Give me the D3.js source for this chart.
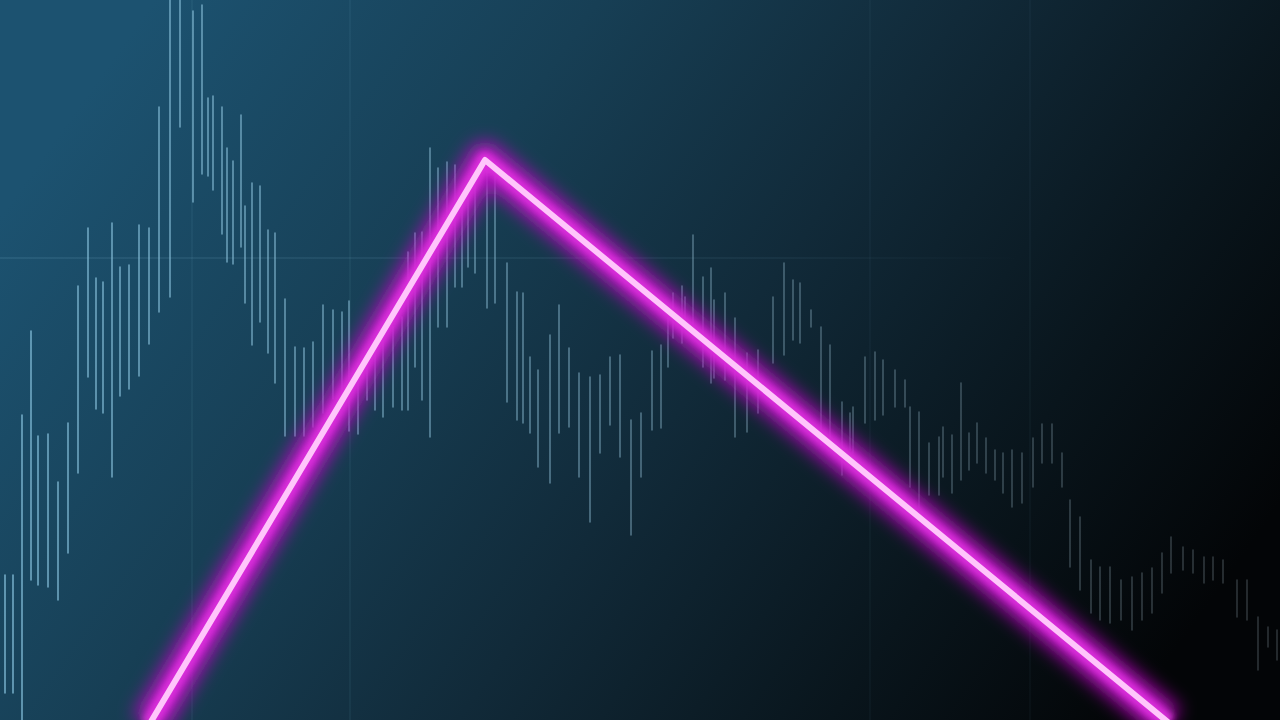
<!DOCTYPE html>
<html><head><meta charset="utf-8">
<script src="https://cdn.jsdelivr.net/npm/d3@7"></script>
<style>html,body{margin:0;padding:0;background:#000;overflow:hidden}</style>
</head><body><svg id="c" width="1280" height="720"></svg>
<script>
// Range bars (day index /10, value units)
const days  = [0.5,1.3,2.2,3.1,3.8,4.8,5.8,6.8,7.8,8.8,9.6,10.3,11.2,12.0,12.9,13.9,14.9,15.9,17.0,18.0,19.3,20.2,20.8,21.3,22.2,22.7,23.3,24.1,24.5,25.2,26.0,26.8,27.5,28.5,29.5,30.4,31.3,32.3,33.3,34.2,34.9,35.8,36.7,37.5,38.3,39.3,40.2,40.8,41.5,42.2,43.0,43.8,44.7,45.5,46.2,46.8,47.5,48.7,49.5,50.7,51.7,52.3,53.0,53.8,55.0,55.9,56.9,57.9,59.0,60.0,61.0,62.0,63.1,64.1,65.2,66.1,66.8,67.3,68.2,68.5,69.3,70.3,71.1,71.4,72.5,73.5,74.7,75.8,77.3,78.4,79.3,80.0,81.1,82.1,83.0,84.2,85.0,85.3,86.5,87.5,88.3,89.5,90.5,91.0,91.9,92.9,93.9,94.3,95.2,96.1,96.9,97.7,98.6,99.5,100.3,101.2,102.2,103.3,104.2,105.2,106.2,107.0,108.0,109.1,110.0,111.0,112.1,113.2,114.2,115.2,116.2,117.1,118.3,119.3,120.4,121.3,122.3,123.7,124.7,125.8,126.8,127.7];
const highs = [14.5,14.5,30.5,38.9,28.4,28.6,23.8,29.7,43.4,49.2,44.2,43.8,49.7,45.3,45.5,49.5,49.2,61.3,72.5,72.5,70.9,71.5,62.2,62.4,61.3,57.2,55.9,60.5,51.4,53.7,53.4,49.0,48.7,42.1,37.3,37.2,37.8,41.5,41.0,40.8,41.9,35.7,35.7,37.0,38.0,39.3,40.3,46.8,48.7,48.8,57.2,55.2,55.8,55.5,52.0,53.8,55.0,55.3,54.3,45.7,42.8,42.7,36.3,35.0,38.5,41.5,37.2,34.7,34.3,34.5,36.3,36.5,30.0,30.7,36.9,37.5,40.2,42.7,43.4,42.3,48.5,44.3,45.2,42.0,42.7,40.2,36.7,37.0,42.3,45.7,44.0,43.7,41.0,39.3,37.5,31.8,30.7,31.3,36.3,36.8,36.0,35.0,34.0,31.3,30.8,27.7,28.3,29.3,28.5,33.7,28.7,29.7,28.2,27.0,26.7,27.0,26.7,28.2,29.6,29.6,26.7,22.0,20.3,16.0,15.3,15.3,14.0,14.3,14.7,15.2,16.7,18.3,17.3,17.0,16.3,16.3,16.0,14.0,14.0,10.3,9.3,9.0];
const lows  = [2.7,2.7,0,14.0,13.5,13.3,12.0,16.7,24.7,34.3,31.1,30.7,24.3,32.4,33.1,34.4,37.6,40.8,42.3,59.3,51.8,54.6,54.4,53.0,48.6,45.8,45.6,47.3,41.7,37.5,39.8,36.7,33.7,28.4,28.4,28.4,29.3,30.7,32.1,31.5,28.9,28.6,32.0,31.0,30.3,31.3,31.0,31.0,35.3,32.0,28.3,39.3,39.3,43.3,43.3,45.3,44.7,41.2,41.7,31.8,30.0,29.7,28.7,25.3,23.7,28.7,29.3,24.3,19.8,26.7,29.5,26.3,18.5,24.3,29.0,29.2,35.3,38.2,37.7,39.0,39.6,35.3,33.7,34.2,34.0,28.3,28.8,30.7,35.7,36.5,38.0,37.7,39.3,27.5,28.0,24.5,27.0,26.7,29.7,30.0,30.5,31.3,31.3,23.3,21.2,22.5,22.5,24.3,22.7,24.0,25.0,25.7,24.7,24.0,22.7,21.3,21.7,23.3,25.7,25.7,23.3,15.3,13.0,10.7,10.0,9.7,10.0,9.0,10.0,10.7,12.7,14.7,15.0,14.7,13.7,14.0,13.7,10.3,10.0,5.0,7.3,6.0];
// Highlighted trend line
const trendDays   = [14.9, 48.5, 116.9];
const trendValues = [-0.5, 56.0, -0.3];
// Grid
const gridDays   = [19.2, 35.0, 87.0, 103.0];
const gridValues = [46.2];

const W = 1280, H = 720;
const svg = d3.select('#c');
const x = d3.scaleLinear().domain([0, 128]).range([0, W]);
const y = d3.scaleLinear().domain([0, 72]).range([H, 0]);

const defs = svg.append('defs');
const bg = defs.append('linearGradient').attr('id','bg')
  .attr('x1','0').attr('y1','0.3').attr('x2','1').attr('y2','0.7');
[[0,'#1c5270'],[0.3,'#173f55'],[0.55,'#112a39'],[0.8,'#09151c'],[1,'#030507']]
  .forEach(([o,c]) => bg.append('stop').attr('offset',o).attr('stop-color',c));

const barG = defs.append('linearGradient').attr('id','barG')
  .attr('gradientUnits','userSpaceOnUse').attr('x1',0).attr('y1',0).attr('x2',W).attr('y2',0);
[[0,'#86c2de',0.8],[0.45,'#8ab8cf',0.55],[0.75,'#8aa7b6',0.38],[1,'#8a9aa3',0.3]]
  .forEach(([o,c,a]) => barG.append('stop').attr('offset',o).attr('stop-color',c).attr('stop-opacity',a));

const gridG = defs.append('linearGradient').attr('id','gridG')
  .attr('gradientUnits','userSpaceOnUse').attr('x1',0).attr('y1',0).attr('x2',W).attr('y2',0);
[[0,'#8cc4e0',0.22],[0.6,'#8cc4e0',0.12],[0.8,'#8cc4e0',0.0],[1,'#8cc4e0',0.0]]
  .forEach(([o,c,a]) => gridG.append('stop').attr('offset',o).attr('stop-color',c).attr('stop-opacity',a));

const f1 = defs.append('filter').attr('id','glowWide').attr('x','-20%').attr('y','-20%').attr('width','140%').attr('height','140%');
f1.append('feGaussianBlur').attr('stdDeviation',9);
const f2 = defs.append('filter').attr('id','glowNear').attr('x','-20%').attr('y','-20%').attr('width','140%').attr('height','140%');
f2.append('feGaussianBlur').attr('stdDeviation',3);

svg.append('rect').attr('width',W).attr('height',H).attr('fill','url(#bg)');

// grid
svg.append('g').selectAll('line').data(gridDays).join('line')
  .attr('x1',d=>x(d)).attr('x2',d=>x(d)).attr('y1',0).attr('y2',H)
  .attr('stroke','#8cc4e0').attr('stroke-opacity',d=>x(d)<600?0.12:0.07).attr('stroke-width',1);
svg.append('g').selectAll('line').data(gridValues).join('line')
  .attr('x1',0).attr('x2',W).attr('y1',d=>y(d)).attr('y2',d=>y(d))
  .attr('stroke','url(#gridG)').attr('stroke-width',1.2);

// range bars
const bars = days.map((d,i)=>({d, hi:highs[i], lo:lows[i]}));
svg.append('g').selectAll('line').data(bars).join('line')
  .attr('x1',b=>x(b.d)).attr('x2',b=>x(b.d)+0.01)
  .attr('y1',b=>y(b.hi)).attr('y2',b=>y(b.lo))
  .attr('stroke','url(#barG)').attr('stroke-width',1.6).attr('stroke-linecap','round');

// trend line with neon glow
const pts = trendDays.map((d,i)=>[x(d), y(trendValues[i])]);
const line = d3.line();
const tg = svg.append('g');
tg.append('path').attr('d',line(pts)).attr('fill','none')
  .attr('stroke','#c010c8').attr('stroke-width',36).attr('stroke-opacity',0.9)
  .attr('stroke-linejoin','round').attr('filter','url(#glowWide)');
tg.append('path').attr('d',line(pts)).attr('fill','none')
  .attr('stroke','#dc30dc').attr('stroke-width',17).attr('stroke-opacity',0.95)
  .attr('stroke-linejoin','round').attr('filter','url(#glowNear)');
tg.append('path').attr('d',line(pts)).attr('fill','none')
  .attr('stroke','#ffc6fb').attr('stroke-width',6)
  .attr('stroke-linejoin','round');
</script></body></html>
